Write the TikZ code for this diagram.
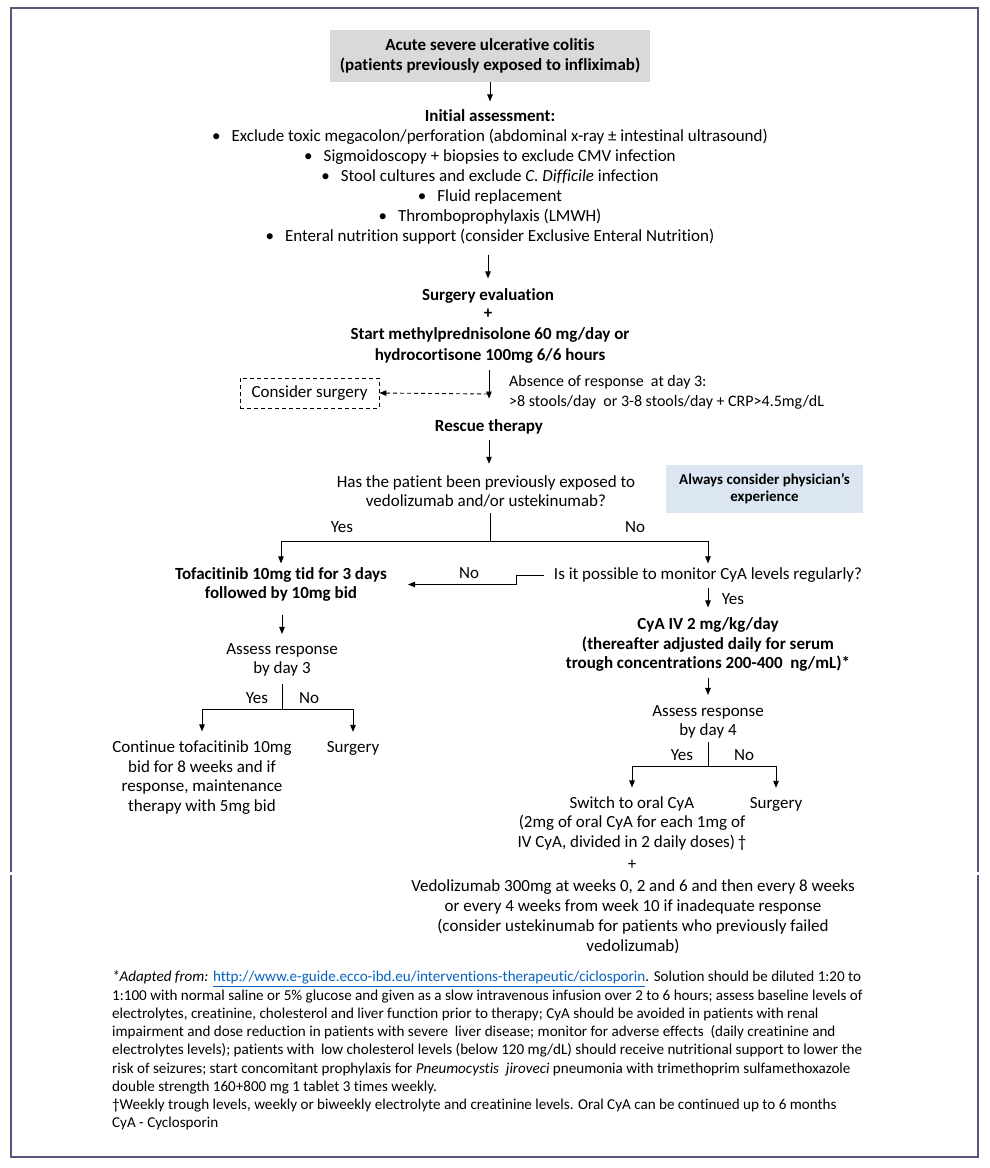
\documentclass[tikz,border=0pt]{standalone}
\usepackage{fontspec}
\setmainfont{Carlito}[Ligatures={TeX,NoCommon}]
\usetikzlibrary{arrows.meta}
\definecolor{framec}{HTML}{55557E}
\definecolor{titlegray}{HTML}{D9D9D9}
\definecolor{bluebox}{HTML}{DCE6F2}
\definecolor{linkblue}{HTML}{0563C1}
\begin{document}
\begin{tikzpicture}[x=1pt,y=-1pt,
  txt/.style={font=\fontsize{17}{20}\selectfont, align=center, inner sep=0pt},
  btxt/.style={font=\fontsize{17}{20}\selectfont\bfseries, align=center, inner sep=0pt},
  arr/.style={-{Triangle[length=7pt,width=5.5pt]}, line width=0.9pt},
  ln/.style={line width=0.9pt},
  sa/.style={shorten <=#1},
  sb/.style={shorten >=#1},
]
\useasboundingbox (0,0) rectangle (990,1168);
\fill[white] (0,0) rectangle (990,1168);
% frame
\draw[framec, line width=1.3pt] (11,872) -- (11,8) -- (978,8) -- (978,872);
\draw[framec, line width=1.3pt] (11,875) -- (11,1157) -- (978,1157) -- (978,875);

% title
\node[btxt, fill=titlegray, minimum width=320pt, minimum height=52pt] (title) at (490,56)
  {Acute severe ulcerative colitis\\(patients previously exposed to infliximab)};

% initial assessment
\node[txt] (init) at (490,177) {\textbf{Initial assessment:}\\
  •\hspace{11pt}Exclude toxic megacolon/perforation (abdominal x-ray ± intestinal ultrasound)\\
  •\hspace{11pt}Sigmoidoscopy + biopsies to exclude CMV infection\\
  •\hspace{11pt}Stool cultures and exclude \textit{C. Difficile} infection\\
  •\hspace{11pt}Fluid replacement\\
  •\hspace{11pt}Thromboprophylaxis (LMWH)\\
  •\hspace{11pt}Enteral nutrition support (consider Exclusive Enteral Nutrition)};

\node[btxt] (surgeval) at (488,296) {Surgery evaluation};
\node[btxt] (plus1) at (488,314) {+};
\node[btxt, font=\fontsize{17}{21}\selectfont\bfseries] (steroid) at (490,345)
  {Start methylprednisolone 60 mg/day or\\hydrocortisone 100mg 6/6 hours};

\node[txt, align=left, anchor=west, font=\fontsize{16}{20}\selectfont] (absence) at (509,392)
  {Absence of response~ at day 3:\\>8 stools/day~ or 3-8 stools/day + CRP>4.5mg/dL};

\node[txt, draw, dashed, dash pattern=on 4pt off 3pt, line width=0.8pt,
  minimum width=139pt, minimum height=30pt] (consider) at (309.5,393) {Consider surgery};

\node[btxt] (rescue) at (489,427) {Rescue therapy};

\node[txt, font=\fontsize{17}{18.5}\selectfont] (question) at (486,491.5)
  {Has the patient been previously exposed to\\vedolizumab and/or ustekinumab?};

\node[font=\fontsize{15}{17}\selectfont\bfseries, align=center, fill=bluebox,
  minimum width=197pt, minimum height=48pt, inner sep=0pt] (phys) at (764.5,489)
  {Always consider physician's\\experience};

\node[txt] (yes1) at (342,527) {Yes};
\node[txt] (no1) at (635,527) {No};

\node[btxt, font=\fontsize{17}{19}\selectfont\bfseries] (tofa) at (281,584.5)
  {Tofacitinib 10mg tid for 3 days\\followed by 10mg bid};
\node[txt] (monitor) at (708,575) {Is it possible to monitor CyA levels regularly?};
\node[txt] (no2) at (469,573) {No};
\node[txt] (yes2) at (733,599) {Yes};

\node[btxt, font=\fontsize{17}{19.5}\selectfont\bfseries] (cya) at (708,644.5)
  {CyA IV 2 mg/kg/day\\(thereafter adjusted daily for serum\\trough concentrations 200-400~~ng/mL)*};

\node[txt, font=\fontsize{17}{19}\selectfont] (assess2) at (708,721.5) {Assess response\\by day 4};
\node[txt] (yes3) at (682,755) {Yes};
\node[txt] (no3) at (744,755) {No};

\node[txt, font=\fontsize{17}{19.5}\selectfont] (switch) at (632,823.5)
  {Switch to oral CyA\\(2mg of oral CyA for each 1mg of\\IV CyA, divided in 2 daily doses)\,†};
\node[txt] (surgery2) at (776,804) {Surgery};
\node[txt] (plus2) at (632,865) {+};
\node[txt] (vedo) at (633,917)
  {Vedolizumab 300mg at weeks 0, 2 and 6 and then every 8 weeks\\
   or every 4 weeks from week 10 if inadequate response\\
   (consider ustekinumab for patients who previously failed\\
   vedolizumab)};

\node[txt, font=\fontsize{17}{19}\selectfont] (assess1) at (282,659.5) {Assess response\\by day 3};
\node[txt] (yes4) at (257,698) {Yes};
\node[txt] (no4) at (309,698) {No};
\node[txt, font=\fontsize{17}{19.7}\selectfont] (cont) at (202,777.5)
  {Continue tofacitinib 10mg\\bid for 8 weeks and if\\response, maintenance\\therapy with 5mg bid};
\node[txt] (surgery1) at (353,748) {Surgery};

% footnote
\node[font=\fontsize{15.1}{18.25}\selectfont, align=left, inner sep=0pt, anchor=north west] (foot) at (112,971)
  {\textit{*Adapted from:} \textcolor{linkblue}{\underline{http://www.e-guide.ecco-ibd.eu/interventions-therapeutic/ciclosporin}}. Solution should be diluted 1:20 to\\
  1:100 with normal saline or 5\% glucose and given as a slow intravenous infusion over 2 to 6 hours; assess baseline levels of\\
  electrolytes, creatinine, cholesterol and liver function prior to therapy; CyA should be avoided in patients with renal\\
  impairment and dose reduction in patients with severe~ liver disease; monitor for adverse effects~ (daily creatinine and\\
  electrolytes levels); patients with~ low cholesterol levels (below 120 mg/dL) should receive nutritional support to lower the\\
  risk of seizures; start concomitant prophylaxis for \textit{Pneumocystis~ jiroveci} pneumonia with trimethoprim sulfamethoxazole\\
  double strength 160+800 mg 1 tablet 3 times weekly.\\
  †Weekly trough levels, weekly or biweekly electrolyte and creatinine levels. Oral CyA can be continued up to 6 months\\
  CyA - Cyclosporin};

% connectors
\draw[arr, sb=8pt] (title.south) -- (init.north);
\draw[arr, sa=10pt, sb=10pt] (init.south -| surgeval) -- (surgeval.north);
\coordinate (branch) at (488,394);
\draw[arr, sa=7pt, sb=21pt] (steroid.south -| rescue) -- (rescue.north);
\draw[arr, dashed, dash pattern=on 4pt off 3pt] (branch) -- (consider.east);
\draw[arr, sa=5pt, sb=12pt] (rescue.south) -- (rescue.south |- question.north);

\coordinate (qsplit) at (490,541);
\draw[ln, sa=6pt] (question.south -| qsplit) -- (qsplit);
\draw[arr, sb=4pt] (qsplit) -| (tofa.north);
\draw[arr, sb=4pt] (qsplit) -| (monitor.north);
\draw[arr, sa=10pt, sb=21pt] (monitor.west) -- ++(-37,0) |- (tofa.east);
\draw[arr, sa=5pt, sb=10pt] (monitor.south) -- (cya.north);
\draw[arr, sa=6pt, sb=10pt] (cya.south) -- (assess2.north);

\coordinate (rsplit) at (708,766);
\draw[ln, sa=4pt] (assess2.south) -- (rsplit);
\draw[arr, sb=9pt] (rsplit) -| (switch.north);
\draw[arr, sb=9pt] (rsplit) -| (surgery2.north);

\draw[arr, sa=13pt, sb=9pt] (tofa.south -| assess1) -- (assess1.north);
\coordinate (lsplit) at (282,709);
\draw[ln, sa=8pt] (assess1.south) -- (lsplit);
\draw[arr, sb=9pt] (lsplit) -| (cont.north);
\draw[arr, sb=9pt] (lsplit) -| (surgery1.north);
\end{tikzpicture}
\end{document}
